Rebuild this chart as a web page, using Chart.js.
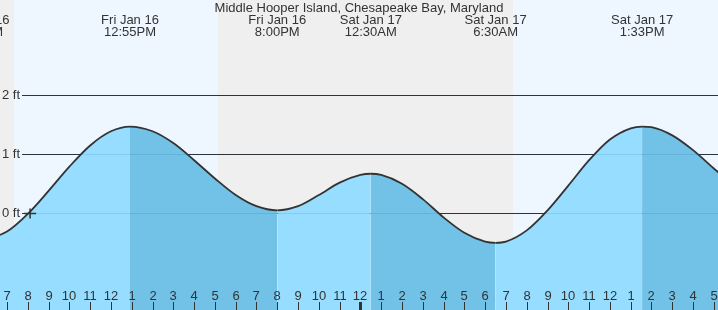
<!DOCTYPE html>
<html><head><meta charset="utf-8">
<script src="https://cdn.jsdelivr.net/npm/chart.js@4/dist/chart.umd.min.js"></script>
<style>html,body{margin:0;padding:0;background:#fff;overflow:hidden}#wrap{width:718px;height:310px;position:relative}</style>
</head><body><div id="wrap"><canvas id="c" width="718" height="310"></canvas></div>
<script>
// Hours measured from Fri Jan 16 00:00
const tideHours = [6, 7, 8, 9, 10, 11, 12, 12.917, 14, 15, 16, 17, 18, 19, 20, 21, 22, 23, 24, 24.5, 25, 26, 27, 28, 29, 30, 30.5, 31, 32, 33, 34, 35, 36, 37, 37.55, 38, 39, 40, 41, 42];
const tideFeet  = [-0.44, -0.31, -0.01, 0.38, 0.79, 1.15, 1.39, 1.47, 1.39, 1.19, 0.90, 0.59, 0.31, 0.12, 0.05, 0.12, 0.31, 0.52, 0.65, 0.67, 0.65, 0.50, 0.24, -0.07, -0.33, -0.48, -0.50, -0.48, -0.29, 0.05, 0.47, 0.90, 1.25, 1.44, 1.47, 1.46, 1.32, 1.07, 0.76, 0.46];

const eventHours = [5.73, 12.917, 20.0, 24.5, 30.5, 37.55];
const eventDates = ['Fri Jan 16', 'Fri Jan 16', 'Fri Jan 16', 'Sat Jan 17', 'Sat Jan 17', 'Sat Jan 17'];
const eventTimes = ['5:44AM', '12:55PM', '8:00PM', '12:30AM', '6:30AM', '1:33PM'];

const dayStarts = [7.34, 31.34];
const dayEnds   = [17.15, 60];

const gridFeet   = [2, 1, 0];
const gridLabels = ['2 ft', '1 ft', '0 ft'];

const tickHours  = [7,8,9,10,11,12,13,14,15,16,17,18,19,20,21,22,23,24,25,26,27,28,29,30,31,32,33,34,35,36,37,38,39,40,41];
const tickLabels = ['7','8','9','10','11','12','1','2','3','4','5','6','7','8','9','10','11','12','1','2','3','4','5','6','7','8','9','10','11','12','1','2','3','4','5'];
const midnightHours = [24];

const nowHour = 8.11;
const nowFeet = 0;

const titleText = 'Middle Hooper Island, Chesapeake Bay, Maryland';

const FONT = '13px "Liberation Sans", Arial, sans-serif';
const TXT = '#333333';
const LIGHT = 'rgb(150,221,255)';
const DARK = 'rgb(114,193,230)';

const decor = {
  id: 'decor',
  beforeDraw(chart) {
    const {ctx, scales: {x}} = chart;
    ctx.save();
    ctx.fillStyle = '#efefef';
    ctx.fillRect(0, 0, chart.width, chart.height);
    ctx.fillStyle = '#eef7ff';
    dayStarts.forEach((s, i) => {
      const a = x.getPixelForValue(s), b = x.getPixelForValue(dayEnds[i]);
      ctx.fillRect(a, 0, b - a, chart.height);
    });
    ctx.restore();
  },
  beforeDatasetsDraw(chart) {
    const {ctx, scales: {y}} = chart;
    ctx.save();
    ctx.strokeStyle = '#333333';
    ctx.lineWidth = 1;
    gridFeet.forEach(v => {
      const py = Math.round(y.getPixelForValue(v)) + 0.5;
      ctx.beginPath(); ctx.moveTo(22, py); ctx.lineTo(chart.width, py); ctx.stroke();
    });
    ctx.restore();
  },
  afterDatasetsDraw(chart) {
    const {ctx, scales: {x, y}} = chart;
    ctx.save();
    ctx.strokeStyle = 'rgba(0,70,130,0.12)';
    ctx.lineWidth = 1;
    gridFeet.forEach(v => {
      const py = Math.round(y.getPixelForValue(v)) + 0.5;
      ctx.beginPath(); ctx.moveTo(22, py); ctx.lineTo(chart.width, py); ctx.stroke();
    });
    ctx.font = FONT;
    ctx.fillStyle = TXT;
    ctx.textBaseline = 'middle';
    ctx.textAlign = 'right';
    gridFeet.forEach((v, i) => {
      ctx.fillText(gridLabels[i], 20, y.getPixelForValue(v));
    });
    ctx.textAlign = 'center';
    ctx.fillText(titleText, 359, 8);
    eventHours.forEach((h, i) => {
      const px = x.getPixelForValue(h);
      ctx.fillText(eventDates[i], px, 20);
      ctx.fillText(eventTimes[i], px, 32);
    });
    tickHours.forEach((h, i) => {
      const px = Math.round(x.getPixelForValue(h));
      ctx.fillText(tickLabels[i], px, 296);
      const w = midnightHours.includes(h) ? 3 : 1;
      ctx.fillStyle = TXT;
      ctx.fillRect(px - Math.floor(w / 2), 302, w, 8);
    });
    const nx = x.getPixelForValue(nowHour), ny = Math.round(y.getPixelForValue(nowFeet)) + 0.5;
    ctx.strokeStyle = '#333333';
    ctx.lineWidth = 1.5;
    ctx.beginPath();
    ctx.moveTo(nx - 6, ny); ctx.lineTo(nx + 6, ny);
    ctx.moveTo(nx, ny - 5); ctx.lineTo(nx, ny + 5);
    ctx.stroke();
    ctx.restore();
  }
};

new Chart(document.getElementById('c'), {
  type: 'line',
  data: {
    datasets: [{
      data: tideHours.map((h, i) => ({x: h, y: tideFeet[i]})),
      borderColor: '#333333',
      borderWidth: 1.8,
      backgroundColor: LIGHT,
      fill: 'start',
      cubicInterpolationMode: 'monotone',
      pointRadius: 0,
      segment: {
        backgroundColor: c => (c.p1.parsed.y < c.p0.parsed.y ? DARK : LIGHT)
      }
    }]
  },
  options: {
    responsive: false,
    animation: false,
    devicePixelRatio: 1,
    layout: {padding: 0},
    plugins: {legend: {display: false}, tooltip: {enabled: false}},
    scales: {
      x: {type: 'linear', min: 6.663, max: 41.2, display: false},
      y: {type: 'linear', min: -1.639, max: 3.615, display: false}
    }
  },
  plugins: [decor]
});
</script></body></html>
